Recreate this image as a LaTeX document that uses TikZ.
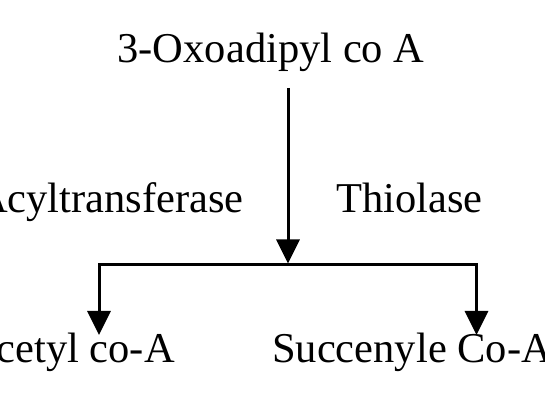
\documentclass[tikz,border=0pt]{standalone}
\usepackage{fontspec}
\setmainfont{Liberation Serif}
\usetikzlibrary{arrows.meta}
\begin{document}
\begin{tikzpicture}[x=1pt,y=1pt,
  lbl/.style={inner sep=0pt, font=\fontsize{42.5}{50}\selectfont},
  conn/.style={line width=3pt},
  tipped/.style={-{Triangle[width=23pt,length=24pt]}}]
\useasboundingbox (0,0) rectangle (545,406);
\node[lbl, anchor=base] (top) at (271,343) {3-Oxoadipyl co A};
\node[lbl, anchor=base east] (acyl) at (244,193) {Acyltransferase};
\node[lbl, anchor=base west] (thio) at (336,193) {Thiolase};
\node[lbl, anchor=base east] (acetyl) at (175,43.5) {Acetyl co-A};
\node[lbl, anchor=base west] (succ) at (272,43.5) {Succenyle Co-A};
\coordinate (start) at (288,318);
\coordinate (split) at (288,141);
\coordinate (lt) at (99,71);
\coordinate (rt) at (476.5,71);
\draw[conn,tipped] (start) -- ([yshift=1.5pt]split);
\draw[conn,tipped] (split) -| (lt);
\draw[conn,tipped] (split) -| (rt);
\end{tikzpicture}
\end{document}
